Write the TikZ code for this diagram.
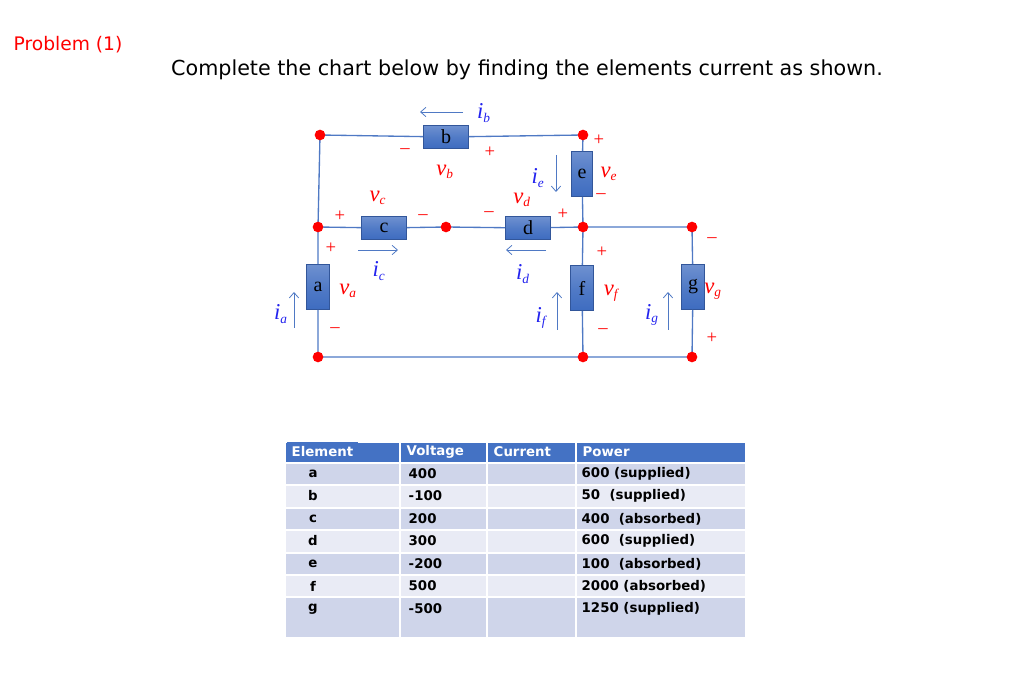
\documentclass[tikz,border=0pt]{standalone}
\usepackage{fontspec}
\setmainfont{Liberation Serif}
\newfontfamily\comic{DejaVu Sans}
\usetikzlibrary{arrows.meta}
\definecolor{wire}{HTML}{4F79C4}
\definecolor{boxb}{HTML}{3E6CC0}
\definecolor{hdr}{HTML}{4472C4}
\definecolor{rowA}{HTML}{CFD5EA}
\definecolor{rowB}{HTML}{E9EBF5}
\definecolor{lblue}{HTML}{2222EE}
\begin{document}
\begin{tikzpicture}[x=0.75pt,y=-0.75pt,
  elem/.style={draw=boxb!80!black,line width=0.4pt,top color=boxb!75,bottom color=boxb,middle color=boxb!90,inner sep=0pt,font=\fontsize{15}{15}\selectfont},
  helem/.style={elem,minimum width=34pt,minimum height=17pt},
  velem/.style={elem,minimum width=17pt,minimum height=34pt},
  dot/.style={circle,fill=red,inner sep=0pt,minimum size=8pt},
  sgn/.style={text=red,font=\fontsize{14}{14}\selectfont},
  vl/.style={text=red,font=\fontsize{17}{17}\selectfont\itshape},
  il/.style={text=lblue,font=\fontsize{17}{17}\selectfont\itshape},
  iarr/.style={draw=wire,-{Straight Barb[length=4pt,width=7pt]},line width=0.6pt},
  wire/.style={draw=wire,line width=1pt},
  th/.style={fill=hdr,text=white,anchor=west,font=\comic\bfseries\fontsize{10}{10}\selectfont},
  td/.style={font=\comic\bfseries\fontsize{10}{10}\selectfont,anchor=west}
]
\useasboundingbox (0,0) rectangle (1024,673);
\node[text=red,font=\comic\fontsize{14}{14}\selectfont] (prob) at (68,45) {Problem (1)};
\node[font=\comic\fontsize{15.5}{15.5}\selectfont] (title) at (527,70) {Complete the chart below by finding the elements current as shown.};
% nodes
\coordinate (TL) at (320,135); \coordinate (TR) at (583,135);
\coordinate (ML) at (318,227); \coordinate (MM) at (446,227); \coordinate (J) at (583,227); \coordinate (R) at (692,227);
\coordinate (BL) at (318,357); \coordinate (BM) at (583,357); \coordinate (BR) at (692,357);
\node[helem] (b) at (446,137) {b};
\node[velem,minimum width=16pt] (e) at (582,174) {e};
\node[helem] (c) at (384,228) {c};
\node[helem] (d) at (528,228) {d};
\node[velem] (a) at (318,287) {a};
\node[velem] (f) at (582,288) {f};
\node[velem] (g) at (693,287) {g};
\begin{scope}[on background layer/.try]
\end{scope}
\draw[wire] (TL) -- (b) -- (TR) -- (e) -- (J) -- (R) -- (g) -- (BR) -- (BL) -- (a) -- (ML) -- (TL);
\draw[wire] (ML) -- (c) -- (MM) -- (d) -- (J) -- (f) -- (BM);
\foreach \p in {TL,TR,ML,MM,J,R,BL,BM,BR} \node[dot] at (\p) {};
% labels b
\node[sgn] at (405,151) {--}; \node[sgn] at (490,152) {+};
\node[vl] at (445,172) {v\textsubscript{\fontsize{10}{10}\selectfont b}};
\coordinate (ib1) at (463,112); \coordinate (ib2) at (420,112);
\draw[iarr] (ib1) -- (ib2); \node[il] at (484,113) {i\textsubscript{\fontsize{10}{10}\selectfont b}};
% e
\node[sgn] at (599,140) {+}; \node[sgn] at (601,196) {--};
\node[vl] at (609,174) {v\textsubscript{\fontsize{10}{10}\selectfont e}};
\coordinate (ie1) at (556,155); \coordinate (ie2) at (556,192);
\draw[iarr] (ie1) -- (ie2); \node[il] at (538,178) {i\textsubscript{\fontsize{10}{10}\selectfont e}};
% c
\node[sgn] at (340,216) {+}; \node[sgn] at (423,217) {--};
\node[vl] at (378,198) {v\textsubscript{\fontsize{10}{10}\selectfont c}};
\coordinate (ic1) at (358,250); \coordinate (ic2) at (398,250);
\draw[iarr] (ic1) -- (ic2); \node[il] at (379,271) {i\textsubscript{\fontsize{10}{10}\selectfont c}};
% d
\node[sgn] at (489,214) {--}; \node[sgn] at (563,214) {+};
\node[vl] at (522,200) {v\textsubscript{\fontsize{10}{10}\selectfont d}};
\coordinate (id1) at (546,250); \coordinate (id2) at (506,250);
\draw[iarr] (id1) -- (id2); \node[il] at (523,274) {i\textsubscript{\fontsize{10}{10}\selectfont d}};
% a
\node[sgn] at (331,248) {+}; \node[sgn] at (335,330) {--};
\node[vl] at (348,291) {v\textsubscript{\fontsize{10}{10}\selectfont a}};
\coordinate (ia1) at (294,328); \coordinate (ia2) at (294,292);
\draw[iarr] (ia1) -- (ia2); \node[il] at (281,314) {i\textsubscript{\fontsize{10}{10}\selectfont a}};
% f
\node[sgn] at (602,252) {+}; \node[sgn] at (603,331) {--};
\node[vl] at (611,293) {v\textsubscript{\fontsize{10}{10}\selectfont f}};
\coordinate (if1) at (557,330); \coordinate (if2) at (557,292);
\draw[iarr] (if1) -- (if2); \node[il] at (541,318) {i\textsubscript{\fontsize{10}{10}\selectfont f}};
% g
\node[sgn] at (712,240) {--}; \node[sgn] at (712,338) {+};
\node[vl] at (713,291) {v\textsubscript{\fontsize{10}{10}\selectfont g}};
\coordinate (ig1) at (668,330); \coordinate (ig2) at (668,292);
\draw[iarr] (ig1) -- (ig2); \node[il] at (652,315) {i\textsubscript{\fontsize{10}{10}\selectfont g}};
% table
\def\cx{{286,400,487,576,745}}
\fill[hdr] (286,443) rectangle (745,462);
\foreach \x in {400,487,576} \draw[white,line width=1.5pt] (\x,443) -- (\x,637);
\foreach \i/\ya/\yb/\c in {0/463/485/rowA,1/485/508/rowB,2/508/530/rowA,3/530/553/rowB,4/553/575/rowA,5/575/597/rowB,6/597/637/rowA}{
  \fill[\c] (286,\ya) rectangle (745,\yb);
  \draw[white,line width=1.5pt] (286,\ya) -- (745,\ya);
}
\foreach \x in {400,487,576} \draw[white,line width=1.5pt] (\x,443) -- (\x,637);
\node[th] (h1) at (287,452) {Element};
\node[th,fill=none] (h2) at (402,452) {Voltage};
\node[th,fill=none] (h3) at (489,452) {Current};
\node[th,fill=none] (h4) at (578,452) {Power};
\foreach \e/\v/\p/\y in {a/400/600 (supplied)/474,b/-100/50\ \ (supplied)/496,c/200/400\ \ (absorbed)/519,d/300/600\ \ (supplied)/541,e/-200/100\ \ (absorbed)/564,f/500/2000 (absorbed)/586,g/-500/1250 (supplied)/609}{
  \node[td,anchor=center] at (313,\y) {\e};
  \node[td] at (404,\y) {\v};
  \node[td] at (577,\y) {\p};
}
\end{tikzpicture}
\end{document}
